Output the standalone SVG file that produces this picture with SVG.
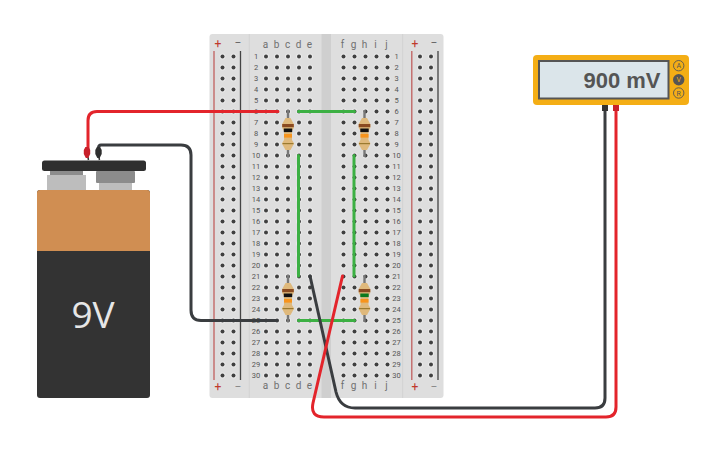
<svg xmlns="http://www.w3.org/2000/svg" width="725" height="453" viewBox="0 0 725 453">
<style>
text{font-family:"Roboto","Liberation Sans",sans-serif}
.num{font-size:7.500px;fill:#555;text-anchor:middle}
.let{font-size:10px;fill:#6f6f6f;text-anchor:middle}
.w{fill:none;stroke-width:3;stroke-linecap:round;stroke-linejoin:round}
.red{stroke:#e3242b}.blk{stroke:#3a3d40}.grn{stroke:#3cb043}
.sign{font-size:12px;text-anchor:middle}
.btn{font-size:7px;text-anchor:middle}
</style>
<defs>
<g id="h"><circle r="3" fill="#eaeaea"/><circle r="2" fill="#404040"/></g>
<g id="row">
<use href="#h" x="222.500"/><use href="#h" x="233.500"/>
<use href="#h" x="266"/><use href="#h" x="277"/><use href="#h" x="288"/><use href="#h" x="299"/><use href="#h" x="310"/>
<use href="#h" x="343.500"/><use href="#h" x="354.500"/><use href="#h" x="365.500"/><use href="#h" x="376.500"/><use href="#h" x="387.500"/>
<use href="#h" x="420"/><use href="#h" x="431"/>
</g>
<g id="res">
<path d="M0-1V46" stroke="#777" stroke-width="2.400" fill="none"/>
<path d="M-2.500 7-5.800 13V17L-4 20V29L-5.800 32V33L-2.500 39H2.500L5.800 33V32L4 29V20L5.800 17V13L2.500 7Z" fill="#dfb97c"/>
<rect x="-5.800" y="13" width="11.600" height="3.200" fill="#8a4a20"/>
<rect x="-4" y="23" width="8" height="3.600" fill="#f7941d"/>
<rect x="-5.500" y="32" width="11" height="1.200" fill="#9a7a30"/>
</g>
<path id="plug" d="M-1.600-4H1.600L3.200-1V3L1.200 7H-1.200L-3.200 3V-1Z"/>
</defs>

<g id="breadboard">
<rect x="209.500" y="34" width="234" height="364" rx="3" fill="#dedede"/>
<rect x="321.500" y="34" width="9.500" height="364" fill="#cfcfcf"/>
<path d="M249.300 34V398M402.700 34V398" stroke="#d2d2d2" stroke-width="1"/>
<path d="M214 51V380M411.800 51V380" stroke="#c0605f" stroke-width="1.300" fill="none"/>
<path d="M240.500 51V380M438 51V380" stroke="#444" stroke-width="1.300" fill="none"/>
<use href="#row" y="56.500"/><use href="#row" y="67.500"/><use href="#row" y="78.500"/><use href="#row" y="89.500"/><use href="#row" y="100.500"/>
<use href="#row" y="111.500"/><use href="#row" y="122.500"/><use href="#row" y="133.500"/><use href="#row" y="144.500"/><use href="#row" y="155.500"/>
<use href="#row" y="166.500"/><use href="#row" y="177.500"/><use href="#row" y="188.500"/><use href="#row" y="199.500"/><use href="#row" y="210.500"/>
<use href="#row" y="221.500"/><use href="#row" y="232.500"/><use href="#row" y="243.500"/><use href="#row" y="254.500"/><use href="#row" y="265.500"/>
<use href="#row" y="276.500"/><use href="#row" y="287.500"/><use href="#row" y="298.500"/><use href="#row" y="309.500"/><use href="#row" y="320.500"/>
<use href="#row" y="331.500"/><use href="#row" y="342.500"/><use href="#row" y="353.500"/><use href="#row" y="364.500"/><use href="#row" y="375.500"/>
<g class="let">
<text x="265.500" y="48">a</text><text x="276.500" y="48">b</text><text x="287.500" y="48">c</text><text x="298.500" y="48">d</text><text x="309.500" y="48">e</text>
<text x="342.500" y="48">f</text><text x="353.500" y="48">g</text><text x="364.500" y="48">h</text><text x="375.500" y="48">i</text><text x="386.500" y="48">j</text>
<text x="265.500" y="389">a</text><text x="276.500" y="389">b</text><text x="287.500" y="389">c</text><text x="298.500" y="389">d</text><text x="309.500" y="389">e</text>
<text x="342.500" y="389">f</text><text x="353.500" y="389">g</text><text x="364.500" y="389">h</text><text x="375.500" y="389">i</text><text x="386.500" y="389">j</text>
</g>
<g class="sign">
<text x="218" y="48" fill="#c0392b">+</text><text x="238" y="47" fill="#666">−</text>
<text x="415" y="48" fill="#c0392b">+</text><text x="434" y="47" fill="#666">−</text>
<text x="218" y="391" fill="#c0392b">+</text><text x="238" y="391" fill="#888">−</text>
<text x="415" y="391" fill="#c0392b">+</text><text x="434" y="391" fill="#888">−</text>
</g>
<g class="num">
<text x="256" y="59">1</text><text x="256" y="70">2</text><text x="256" y="81">3</text><text x="256" y="92">4</text><text x="256" y="103">5</text>
<text x="256" y="114">6</text><text x="256" y="125">7</text><text x="256" y="136">8</text><text x="256" y="147">9</text><text x="256" y="158">10</text>
<text x="256" y="169">11</text><text x="256" y="180">12</text><text x="256" y="191">13</text><text x="256" y="202">14</text><text x="256" y="213">15</text>
<text x="256" y="224">16</text><text x="256" y="235">17</text><text x="256" y="246">18</text><text x="256" y="257">19</text><text x="256" y="268">20</text>
<text x="256" y="279">21</text><text x="256" y="290">22</text><text x="256" y="301">23</text><text x="256" y="312">24</text><text x="256" y="323">25</text>
<text x="256" y="334">26</text><text x="256" y="345">27</text><text x="256" y="356">28</text><text x="256" y="367">29</text><text x="256" y="378">30</text>
<text x="396.500" y="59">1</text><text x="396.500" y="70">2</text><text x="396.500" y="81">3</text><text x="396.500" y="92">4</text><text x="396.500" y="103">5</text>
<text x="396.500" y="114">6</text><text x="396.500" y="125">7</text><text x="396.500" y="136">8</text><text x="396.500" y="147">9</text><text x="396.500" y="158">10</text>
<text x="396.500" y="169">11</text><text x="396.500" y="180">12</text><text x="396.500" y="191">13</text><text x="396.500" y="202">14</text><text x="396.500" y="213">15</text>
<text x="396.500" y="224">16</text><text x="396.500" y="235">17</text><text x="396.500" y="246">18</text><text x="396.500" y="257">19</text><text x="396.500" y="268">20</text>
<text x="396.500" y="279">21</text><text x="396.500" y="290">22</text><text x="396.500" y="301">23</text><text x="396.500" y="312">24</text><text x="396.500" y="323">25</text>
<text x="396.500" y="334">26</text><text x="396.500" y="345">27</text><text x="396.500" y="356">28</text><text x="396.500" y="367">29</text><text x="396.500" y="378">30</text>
</g>
</g>

<g id="battery">
<rect x="37" y="190" width="113" height="208" rx="3" fill="#333"/>
<path d="M37 251V193Q37 190 40 190H147Q150 190 150 193V251Z" fill="#d08e52"/>
<rect x="47" y="175" width="39" height="15" fill="#bdbdbd"/>
<rect x="50" y="171" width="33" height="4" fill="#8c8c8c"/>
<rect x="99" y="183" width="33" height="7" fill="#bdbdbd"/>
<rect x="96" y="171" width="39" height="12" rx="1" fill="#8c8c8c"/>
<rect x="42" y="160.500" width="104" height="10.500" rx="2.500" fill="#2f2f2f"/>
<text x="93" y="328" font-size="37" fill="#e6e6e6" text-anchor="middle" style="font-family:'Open Sans','Liberation Sans',sans-serif;font-weight:400">9V</text>
</g>

<g id="multimeter">
<rect x="533" y="55" width="156" height="50" rx="4" fill="#f4ae15"/>
<rect x="539" y="61" width="129.500" height="37.500" fill="#dbe5ea" stroke="#555" stroke-width="2"/>
<text x="660.500" y="88" font-size="22" font-weight="700" fill="#555" text-anchor="end" style="font-family:'Liberation Sans',sans-serif">900 mV</text>
<g fill="none" stroke="#555" stroke-width="0.900">
<circle cx="678.700" cy="65.700" r="5.200"/><circle cx="678.700" cy="93" r="5.200"/>
</g>
<circle cx="678.700" cy="79.700" r="5.700" fill="#555"/>
<g class="btn">
<text x="678.700" y="68.200" fill="#555">A</text><text x="678.700" y="82.200" fill="#f4ae15">V</text><text x="678.700" y="95.500" fill="#555">R</text>
</g>
</g>

<g id="connectors">
<path class="w red" d="M278 111.500H97Q88 111.500 88 120.500V150"/>
<path class="w blk" d="M98.500 150V148Q98.500 145 101 145H181Q191 145 191 155V310Q191 320.500 201 320.500H277"/>
<path class="w grn" d="M298.500 111.500H354.500"/>
<path class="w grn" d="M298.500 155.500V276"/>
<path class="w grn" d="M354 155.500V276"/>
<path class="w grn" d="M298.500 320.500H354.500"/>
<path class="w blk" d="M310 276 336 392Q340 408 355 408H595Q605 408 605 398V110"/>
<path class="w red" d="M342.500 276 313 403Q310 417 324 417H606Q616 417 616 407V110"/>
<path d="M87.500 155 88.500 160M98.500 155 99.500 160" stroke="#333" stroke-width="1.500" fill="none"/>
<use href="#plug" x="87" y="151" fill="#c8202a"/>
<use href="#plug" x="98.500" y="151" fill="#2f2f2f"/>
<rect x="602" y="105" width="6" height="6" fill="#333"/>
<rect x="613" y="105" width="6" height="6" fill="#c8202a"/>
</g>

<g id="r1"><use href="#res" x="288" y="111"/><rect x="283.800" y="128.500" width="8.400" height="3.600" fill="#111"/></g>
<g id="r2"><use href="#res" x="364.500" y="111"/><rect x="360.300" y="128.500" width="8.400" height="3.600" fill="#111"/></g>
<g id="r3"><use href="#res" x="288" y="276"/><rect x="283.800" y="293.500" width="8.400" height="3.600" fill="#111"/></g>
<g id="r4"><use href="#res" x="364.500" y="276"/><rect x="360.300" y="293.500" width="8.400" height="3.600" fill="#0c7a1e"/></g>
</svg>
